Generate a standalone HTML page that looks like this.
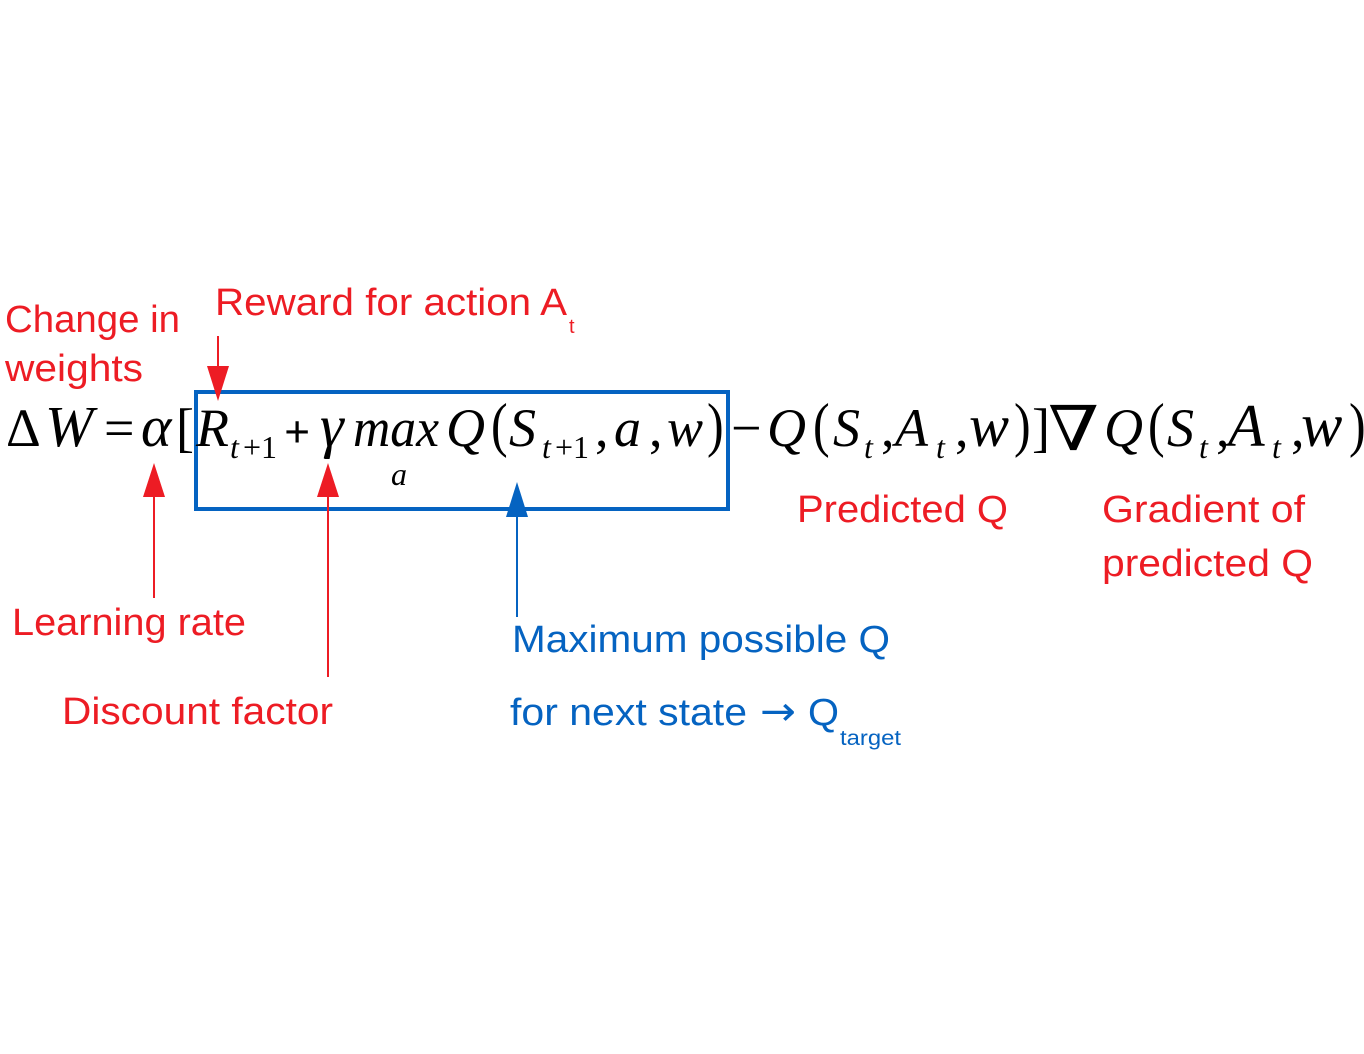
<!DOCTYPE html>
<html><head><meta charset="utf-8"><style>
html,body{margin:0;padding:0;background:#fff;}
svg{display:block;}
.lab{font-family:"Liberation Sans",sans-serif;font-size:38px;}
.r{fill:#ED1C24;}
.b{fill:#0563C1;}
.m{font-family:"Liberation Serif",serif;font-size:54px;fill:#000;}
.i{font-style:italic;}
.s{font-size:32px;}
.p{font-size:50px;}
</style></head><body>
<svg width="1364" height="1054" viewBox="0 0 1364 1054" xmlns="http://www.w3.org/2000/svg">
<rect x="0" y="0" width="1364" height="1054" fill="#fff"/>
<!-- labels -->
<text class="lab r" x="5" y="332" textLength="175" lengthAdjust="spacingAndGlyphs">Change in</text>
<text class="lab r" x="5" y="381" textLength="138" lengthAdjust="spacingAndGlyphs">weights</text>
<text class="lab r" x="215" y="315" textLength="352" lengthAdjust="spacingAndGlyphs">Reward for action A</text>
<text class="lab r" x="569" y="333" style="font-size:20px">t</text>
<text class="lab r" x="12" y="635" textLength="234" lengthAdjust="spacingAndGlyphs">Learning rate</text>
<text class="lab r" x="62" y="724" textLength="271" lengthAdjust="spacingAndGlyphs">Discount factor</text>
<text class="lab r" x="797" y="522" textLength="211" lengthAdjust="spacingAndGlyphs">Predicted Q</text>
<text class="lab r" x="1102" y="522" textLength="203" lengthAdjust="spacingAndGlyphs">Gradient of</text>
<text class="lab r" x="1102" y="576" textLength="211" lengthAdjust="spacingAndGlyphs">predicted Q</text>
<text class="lab b" x="512" y="652" textLength="378" lengthAdjust="spacingAndGlyphs">Maximum possible Q</text>
<text class="lab b" x="510" y="725" textLength="237" lengthAdjust="spacingAndGlyphs">for next state</text>
<text class="b" x="760" y="725" style="font-family:'DejaVu Sans',sans-serif;font-size:40px" textLength="36" lengthAdjust="spacingAndGlyphs">→</text>
<text class="lab b" x="808" y="725" textLength="31" lengthAdjust="spacingAndGlyphs">Q</text>
<text class="lab b" x="840" y="745" style="font-size:21px" textLength="61" lengthAdjust="spacingAndGlyphs">target</text>

<!-- box -->
<rect x="196" y="392" width="532" height="117" fill="none" stroke="#0563C1" stroke-width="4"/>

<!-- arrows -->
<line x1="218" y1="336" x2="218" y2="368" stroke="#ED1C24" stroke-width="2"/>
<polygon points="207,366 229,366 218,401" fill="#ED1C24"/>
<line x1="154" y1="495" x2="154" y2="598" stroke="#ED1C24" stroke-width="2"/>
<polygon points="154,463 143,497 165,497" fill="#ED1C24"/>
<line x1="328" y1="495" x2="328" y2="677" stroke="#ED1C24" stroke-width="2"/>
<polygon points="328,463 317,497 339,497" fill="#ED1C24"/>
<line x1="517" y1="514" x2="517" y2="617" stroke="#0563C1" stroke-width="2"/>
<polygon points="517,482 506,517 528,517" fill="#0563C1"/>

<!-- equation -->
<text class="m" x="6" y="446">Δ</text>
<text class="m i" x="45" y="446" style="font-size:58px">W</text>
<text class="m" x="104" y="446">=</text>
<text class="m i" x="141" y="446" style="font-size:58px">α</text>
<text class="m" x="176" y="446">[</text>
<text class="m i" x="196" y="446">R</text>
<text class="m i s" x="230" y="458">t</text>
<text class="m s" x="243" y="458">+</text>
<text class="m s" x="261" y="458">1</text>
<text class="m" x="284" y="447" style="font-size:46px;font-weight:bold">+</text>
<text class="m i" x="320" y="446" style="font-size:60px">γ</text>
<text class="m i" x="353" y="446" textLength="86" lengthAdjust="spacingAndGlyphs">max</text>
<text class="m i s" x="391" y="485">a</text>
<text class="m i" x="446" y="446">Q</text>
<text class="m p" transform="translate(491,445) scale(1,1.2)">(</text>
<text class="m i" x="509" y="446">S</text>
<text class="m i s" x="542" y="458">t</text>
<text class="m s" x="555" y="458">+</text>
<text class="m s" x="573" y="458">1</text>
<text class="m" x="595" y="446">,</text>
<text class="m i" x="614" y="446">a</text>
<text class="m" x="649" y="446">,</text>
<text class="m i" x="667" y="446">w</text>
<text class="m p" transform="translate(707,445) scale(1,1.2)">)</text>
<text class="m" x="731" y="446">−</text>
<text class="m i" x="767" y="446">Q</text>
<text class="m p" transform="translate(813,445) scale(1,1.2)">(</text>
<text class="m i" x="833" y="446">S</text>
<text class="m i s" x="864" y="458">t</text>
<text class="m" x="881" y="446">,</text>
<text class="m i" x="895" y="446">A</text>
<text class="m i s" x="936" y="458">t</text>
<text class="m" x="955" y="446">,</text>
<text class="m i" x="969" y="446" style="font-size:60px">w</text>
<text class="m p" transform="translate(1014,445) scale(1,1.2)">)</text>
<text class="m" x="1032" y="446">]</text>
<text x="1048" y="450" style="font-family:'DejaVu Serif',serif;font-size:62px" textLength="51" lengthAdjust="spacingAndGlyphs">∇</text>
<text class="m i" x="1104" y="446">Q</text>
<text class="m p" transform="translate(1148,445) scale(1,1.2)">(</text>
<text class="m i" x="1167" y="446">S</text>
<text class="m i s" x="1199" y="458">t</text>
<text class="m" x="1216" y="446">,</text>
<text class="m i" x="1228" y="446" style="font-size:60px">A</text>
<text class="m i s" x="1272" y="458">t</text>
<text class="m" x="1291" y="446">,</text>
<text class="m i" x="1301" y="446" style="font-size:62px">w</text>
<text class="m p" transform="translate(1349,445) scale(1,1.2)">)</text>
</svg>
</body></html>
